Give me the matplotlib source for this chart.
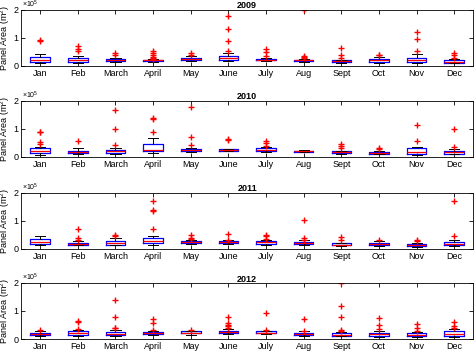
import matplotlib
matplotlib.use("Agg")
import matplotlib.pyplot as plt

plt.rcParams["font.family"] = ["Liberation Sans", "DejaVu Sans"]
plt.rcParams["mathtext.fontset"] = "custom"
plt.rcParams["mathtext.rm"] = "Liberation Sans"

months = ["Jan", "Feb", "March", "April", "May", "June",
          "July", "Aug", "Sept", "Oct", "Nov", "Dec"]
years = ["2009", "2010", "2011", "2012"]

# box stats in units of 1e5 m^2: (whisker low, q1, median, q3, whisker high)
box_2009 = [(0.12, 0.15, 0.20, 0.32, 0.42), (0.10, 0.15, 0.22, 0.30, 0.37),
            (0.13, 0.17, 0.20, 0.24, 0.30), (0.15, 0.17, 0.20, 0.22, 0.25),
            (0.18, 0.22, 0.25, 0.30, 0.35), (0.18, 0.22, 0.28, 0.35, 0.45),
            (0.17, 0.20, 0.23, 0.26, 0.30), (0.15, 0.17, 0.20, 0.22, 0.25),
            (0.12, 0.15, 0.17, 0.20, 0.23), (0.11, 0.15, 0.20, 0.25, 0.33),
            (0.10, 0.15, 0.20, 0.30, 0.42), (0.09, 0.12, 0.15, 0.20, 0.25)]
out_2009 = [[0.90, 0.93], [0.55, 0.60, 0.72], [0.38, 0.45],
            [0.25, 0.28, 0.33, 0.40, 0.48, 0.55], [0.40, 0.47],
            [0.52, 0.88, 1.33, 1.77], [0.35, 0.50, 0.62],
            [0.28, 0.32, 0.35, 2.0], [0.30, 0.38, 0.65], [0.38, 0.40],
            [0.52, 0.97, 1.20], [0.30, 0.38, 0.45]]

box_2010 = [(0.08, 0.15, 0.22, 0.30, 0.35), (0.10, 0.13, 0.18, 0.22, 0.30),
            (0.12, 0.15, 0.20, 0.25, 0.32), (0.15, 0.20, 0.25, 0.45, 0.68),
            (0.18, 0.20, 0.23, 0.28, 0.32), (0.21, 0.22, 0.25, 0.27, 0.28),
            (0.18, 0.22, 0.25, 0.30, 0.35), (0.17, 0.18, 0.20, 0.22, 0.23),
            (0.10, 0.13, 0.17, 0.20, 0.22), (0.10, 0.12, 0.15, 0.18, 0.22),
            (0.08, 0.12, 0.17, 0.30, 0.37), (0.09, 0.12, 0.17, 0.22, 0.28)]
out_2010 = [[0.45, 0.52, 0.87, 0.90], [0.57], [0.42, 1.00, 1.67],
            [0.87, 1.35, 1.38], [0.42, 0.72, 1.78], [0.60, 0.65],
            [0.40, 0.50, 0.55], [], [0.30, 0.38, 0.45], [0.27, 0.33],
            [0.55, 1.15], [0.37, 0.98]]

box_2011 = [(0.12, 0.17, 0.25, 0.35, 0.47), (0.12, 0.15, 0.18, 0.22, 0.27),
            (0.12, 0.15, 0.20, 0.28, 0.40), (0.15, 0.20, 0.27, 0.37, 0.45),
            (0.17, 0.20, 0.23, 0.27, 0.30), (0.17, 0.20, 0.23, 0.27, 0.30),
            (0.15, 0.18, 0.23, 0.27, 0.30), (0.14, 0.17, 0.20, 0.25, 0.30),
            (0.10, 0.12, 0.15, 0.20, 0.22), (0.09, 0.12, 0.17, 0.22, 0.28),
            (0.08, 0.10, 0.15, 0.18, 0.22), (0.09, 0.12, 0.18, 0.25, 0.32)]
out_2011 = [[], [0.32, 0.37, 0.72], [0.45, 0.48],
            [0.70, 1.35, 1.38, 1.72], [0.35, 0.40, 0.48], [0.30, 0.52],
            [0.35, 0.45, 0.50], [0.33, 0.37, 1.02], [0.30, 0.43], [0.30],
            [0.28, 0.30], [0.45, 1.70]]

box_2012 = [(0.10, 0.13, 0.17, 0.22, 0.27), (0.10, 0.15, 0.20, 0.27, 0.32),
            (0.12, 0.15, 0.18, 0.25, 0.32), (0.14, 0.17, 0.20, 0.25, 0.30),
            (0.15, 0.20, 0.23, 0.27, 0.30), (0.19, 0.22, 0.25, 0.30, 0.35),
            (0.17, 0.20, 0.23, 0.27, 0.30), (0.12, 0.15, 0.18, 0.22, 0.27),
            (0.10, 0.12, 0.15, 0.20, 0.25), (0.09, 0.12, 0.17, 0.22, 0.30),
            (0.09, 0.12, 0.15, 0.20, 0.25), (0.09, 0.12, 0.17, 0.28, 0.35)]
out_2012 = [[0.32], [0.35, 0.60, 0.65], [0.38, 0.40, 0.78, 1.38],
            [0.32, 0.58, 0.70], [0.32], [0.40, 0.45, 0.50, 0.58, 0.80],
            [0.32, 0.93], [0.30, 0.73], [0.27, 0.33, 0.78, 1.18, 2.0],
            [0.35, 0.50, 0.75], [0.30, 0.38, 0.55], [0.40, 0.47, 0.60]]

boxes = [box_2009, box_2010, box_2011, box_2012]
outliers = [out_2009, out_2010, out_2011, out_2012]

SCALE = 1e5

fig = plt.figure(figsize=(4.74, 3.51), dpi=100)
# axes bottoms (figure fraction)
bottoms = [0.812, 0.553, 0.291, 0.034]

for year, box, outs, bot in zip(years, boxes, outliers, bottoms):
    ax = fig.add_axes([0.045, bot, 0.953, 0.16])
    stats = []
    for (lo, q1, med, q3, hi), fl in zip(box, outs):
        stats.append(dict(whislo=lo * SCALE, q1=q1 * SCALE, med=med * SCALE,
                          q3=q3 * SCALE, whishi=hi * SCALE,
                          fliers=[v * SCALE for v in fl]))
    ax.bxp(stats, positions=range(1, 13), widths=0.52, showfliers=True,
           boxprops=dict(color="#0000ff", linewidth=0.9),
           medianprops=dict(color="#ff0000", linewidth=0.9),
           whiskerprops=dict(color="black", linewidth=0.7),
           capprops=dict(color="black", linewidth=0.7),
           capwidths=0.27,
           flierprops=dict(marker="+", markeredgecolor="#ff0000",
                           markersize=4.5, markeredgewidth=1.0))
    ax.set_xlim(0.5, 12.5)
    ax.set_ylim(0, 2 * SCALE)
    ax.set_xticks(range(1, 13))
    ax.set_xticklabels(months, fontsize=6.5)
    ax.set_yticks([0, SCALE, 2 * SCALE])
    ax.set_yticklabels(["0", "1", "2"], fontsize=6.5)
    ax.tick_params(direction="in", top=True, right=True, length=3,
                   width=0.6, pad=2)
    for s in ax.spines.values():
        s.set_linewidth(0.6)
    ax.set_ylabel("Panel Area (m$^2$)", fontsize=6.5, labelpad=1)
    ax.set_title(year, fontsize=6.5, fontweight="bold", pad=1)
    # exponent label like MATLAB's
    ax.text(0.002, 1.0, r"$\times10^5$", transform=ax.transAxes,
            fontsize=5, va="bottom", ha="left")

fig.savefig("out.png", dpi=100)
